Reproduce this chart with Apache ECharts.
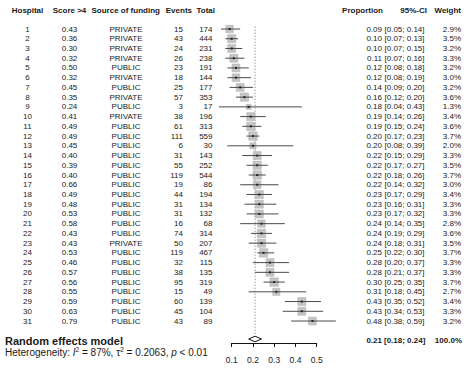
<!DOCTYPE html>
<html>
<head>
<meta charset="utf-8">
<script src="https://cdn.jsdelivr.net/npm/echarts@6/dist/echarts.min.js"></script>
<style>
html,body{margin:0;padding:0;background:#fff;}
#c{width:474px;height:368px;}
</style>
</head>
<body>
<div id="c"></div>
<script>
// ---- data ----
const hospitals = ['1','2','3','4','5','6','7','8','9','10','11','12','13','14','15','16','17','18','19','20','21','22','23','24','25','26','27','28','29','30','31'];
const scores = [0.43,0.36,0.30,0.32,0.50,0.32,0.45,0.35,0.24,0.41,0.49,0.49,0.45,0.40,0.39,0.40,0.66,0.49,0.48,0.53,0.58,0.43,0.43,0.53,0.46,0.57,0.56,0.55,0.59,0.63,0.79];
const funding = ['PRIVATE','PRIVATE','PRIVATE','PRIVATE','PUBLIC','PRIVATE','PUBLIC','PRIVATE','PUBLIC','PRIVATE','PUBLIC','PUBLIC','PUBLIC','PUBLIC','PUBLIC','PUBLIC','PUBLIC','PUBLIC','PUBLIC','PUBLIC','PUBLIC','PUBLIC','PRIVATE','PUBLIC','PUBLIC','PUBLIC','PUBLIC','PUBLIC','PUBLIC','PUBLIC','PUBLIC'];
const events = [15,43,24,26,23,18,25,57,3,38,61,111,6,31,55,119,19,44,31,31,16,74,50,119,32,38,95,15,60,45,43];
const totals = [174,444,231,238,191,144,177,353,17,196,313,559,30,143,252,544,86,194,134,132,68,314,207,467,115,135,319,49,139,104,89];
const proportions = [0.09,0.10,0.10,0.11,0.12,0.12,0.14,0.16,0.18,0.19,0.19,0.20,0.20,0.22,0.22,0.22,0.22,0.23,0.23,0.23,0.24,0.24,0.24,0.25,0.28,0.28,0.30,0.31,0.43,0.43,0.48];
const ciLower = [0.05,0.07,0.07,0.07,0.08,0.08,0.09,0.12,0.04,0.14,0.15,0.17,0.08,0.15,0.17,0.18,0.14,0.17,0.16,0.17,0.14,0.19,0.18,0.22,0.20,0.21,0.25,0.18,0.35,0.34,0.38];
const ciUpper = [0.14,0.13,0.15,0.16,0.18,0.19,0.20,0.20,0.43,0.26,0.24,0.23,0.39,0.29,0.27,0.26,0.32,0.29,0.31,0.32,0.35,0.29,0.31,0.30,0.37,0.37,0.35,0.45,0.52,0.53,0.59];
const weights = [2.9,3.5,3.2,3.3,3.2,3.0,3.2,3.6,1.3,3.4,3.6,3.7,2.0,3.3,3.5,3.7,3.0,3.4,3.3,3.3,2.8,3.6,3.5,3.7,3.3,3.3,3.7,2.7,3.4,3.3,3.2];
const summaryEstimate = [0.21];
const summaryLower = [0.18];
const summaryUpper = [0.24];
const summaryWeight = [100.0];
const heterogeneityI2 = 87;
const heterogeneityTau2 = 0.2063;
const heterogeneityP = '< 0.01';
const xTickValues = [0.1, 0.2, 0.3, 0.4, 0.5];
const headers = ['Hospital','Score >4','Source of funding','Events','Total','Proportion','95%-CI','Weight'];

// ---- layout ----
const FONT = "'Liberation Sans', Arial, sans-serif";
const TXT = '#1a1a1a';
const SUMMARY_ROW = 32.85;

const chart = echarts.init(document.getElementById('c'), null, {renderer: 'svg'});

function txt(x, y, s, align, bold, size) {
  return {
    type: 'text', x: x, y: y, silent: true,
    style: {
      text: s, fill: TXT, align: align, verticalAlign: 'middle',
      font: (bold ? 'bold ' : '') + (size || 8) + 'px ' + FONT
    }
  };
}

const headerPos = [[27.5,'center'],[69.5,'center'],[125.7,'center'],[192,'right'],[215,'right'],[383,'right'],[427,'right'],[461,'right']];

const tableData = hospitals.map((h, i) => [0.1, i + 1]);
const studyData = proportions.map((p, i) => [p, i + 1, ciLower[i], ciUpper[i], weights[i]]);

const option = {
  animation: false,
  grid: {left: 231.7, right: 474 - 316.7, top: 19.27, bottom: 25, containLabel: false},
  xAxis: {
    type: 'value', min: xTickValues[0], max: xTickValues[xTickValues.length - 1], interval: 0.1,
    axisLine: {show: true, onZero: false, lineStyle: {color: '#111', width: 1}},
    axisTick: {show: true, length: 4, lineStyle: {color: '#111'}},
    splitLine: {show: false},
    axisLabel: {color: TXT, fontSize: 8.5, fontFamily: FONT, margin: 12.5,
      formatter: v => v.toFixed(1)}
  },
  yAxis: {
    type: 'value', inverse: true, min: 0, max: 33.26, show: false,
    splitLine: {show: false}
  },
  graphic: [
    ...headers.map((h, i) => txt(headerPos[i][0], 10, h, headerPos[i][1], true, 8)),
    txt(5, 341, 'Random effects model', 'left', true, 11),
    {
      type: 'text', x: 5, y: 352.5, silent: true,
      style: {
        text: 'Heterogeneity: {it|I}{sup|2} = ' + heterogeneityI2 + '%, τ{sup|2} = ' + heterogeneityTau2.toFixed(4) + ', {it|p} ' + heterogeneityP,
        fill: TXT, align: 'left', verticalAlign: 'middle', font: '10px ' + FONT,
        rich: {
          it: {fontStyle: 'italic', fontSize: 10, fontFamily: FONT, fill: TXT},
          sup: {fontSize: 6.5, fontFamily: FONT, fill: TXT, verticalAlign: 'top', padding: [0, 0, 6, 0]}
        }
      }
    }
  ],
  series: [
    {
      type: 'custom', name: 'ref', silent: true,
      data: [[summaryEstimate[0], 0.75, 32.4]],
      renderItem: (params, api) => {
        const a = api.coord([api.value(0), api.value(1)]);
        const b = api.coord([api.value(0), api.value(2)]);
        return {type: 'line', shape: {x1: a[0], y1: a[1], x2: b[0], y2: b[1]},
          style: {stroke: '#9a9a9a', lineWidth: 1, lineDash: [1.5, 1.5]}};
      }
    },
    {
      type: 'custom', name: 'studies', silent: true,
      data: studyData,
      renderItem: (params, api) => {
        const row = api.value(1);
        const c = api.coord([api.value(0), row]);
        const lo = api.coord([api.value(2), row]);
        const hi = api.coord([api.value(3), row]);
        const side = 4.4 * Math.sqrt(api.value(4));
        return {type: 'group', children: [
          {type: 'rect', shape: {x: c[0] - side / 2, y: c[1] - side / 2, width: side, height: side},
            style: {fill: '#c4c4c4', stroke: '#b0b0b0', lineWidth: 0.5}},
          {type: 'line', shape: {x1: lo[0], y1: c[1], x2: hi[0], y2: c[1]},
            style: {stroke: '#4a4a4a', lineWidth: 1}},
          {type: 'rect', shape: {x: c[0] - 1, y: c[1] - 1, width: 2, height: 2},
            style: {fill: '#222'}}
        ]};
      }
    },
    {
      type: 'custom', name: 'table', silent: true,
      data: tableData,
      renderItem: (params, api) => {
        const i = params.dataIndex;
        const y = api.coord([api.value(0), api.value(1)])[1];
        return {type: 'group', children: [
          txt(27.5, y, hospitals[i], 'center'),
          txt(69.5, y, scores[i].toFixed(2), 'center'),
          txt(126, y, funding[i], 'center'),
          txt(183, y, String(events[i]), 'right'),
          txt(212.5, y, String(totals[i]), 'right'),
          txt(382, y, proportions[i].toFixed(2), 'right'),
          txt(384.5, y, '[' + ciLower[i].toFixed(2) + '; ' + ciUpper[i].toFixed(2) + ']', 'left'),
          txt(461, y, weights[i].toFixed(1) + '%', 'right')
        ]};
      }
    },
    {
      type: 'custom', name: 'summary', silent: true,
      data: summaryEstimate.map((e, i) => [e, SUMMARY_ROW, summaryLower[i], summaryUpper[i], summaryWeight[i]]),
      renderItem: (params, api) => {
        const row = api.value(1);
        const c = api.coord([api.value(0), row]);
        const lo = api.coord([api.value(2), row]);
        const hi = api.coord([api.value(3), row]);
        const h = 2.8;
        return {type: 'group', children: [
          {type: 'polygon', shape: {points: [[lo[0], c[1]], [c[0], c[1] - h], [hi[0], c[1]], [c[0], c[1] + h]]},
            style: {fill: '#fff', stroke: '#111', lineWidth: 1}},
          txt(382, c[1] + 1.5, api.value(0).toFixed(2), 'right', true),
          txt(384, c[1] + 1.5, '[' + api.value(2).toFixed(2) + '; ' + api.value(3).toFixed(2) + ']', 'left', true),
          txt(462, c[1] + 1.5, api.value(4).toFixed(1) + '%', 'right', true)
        ]};
      }
    }
  ]
};
chart.setOption(option);
</script>
</body>
</html>
